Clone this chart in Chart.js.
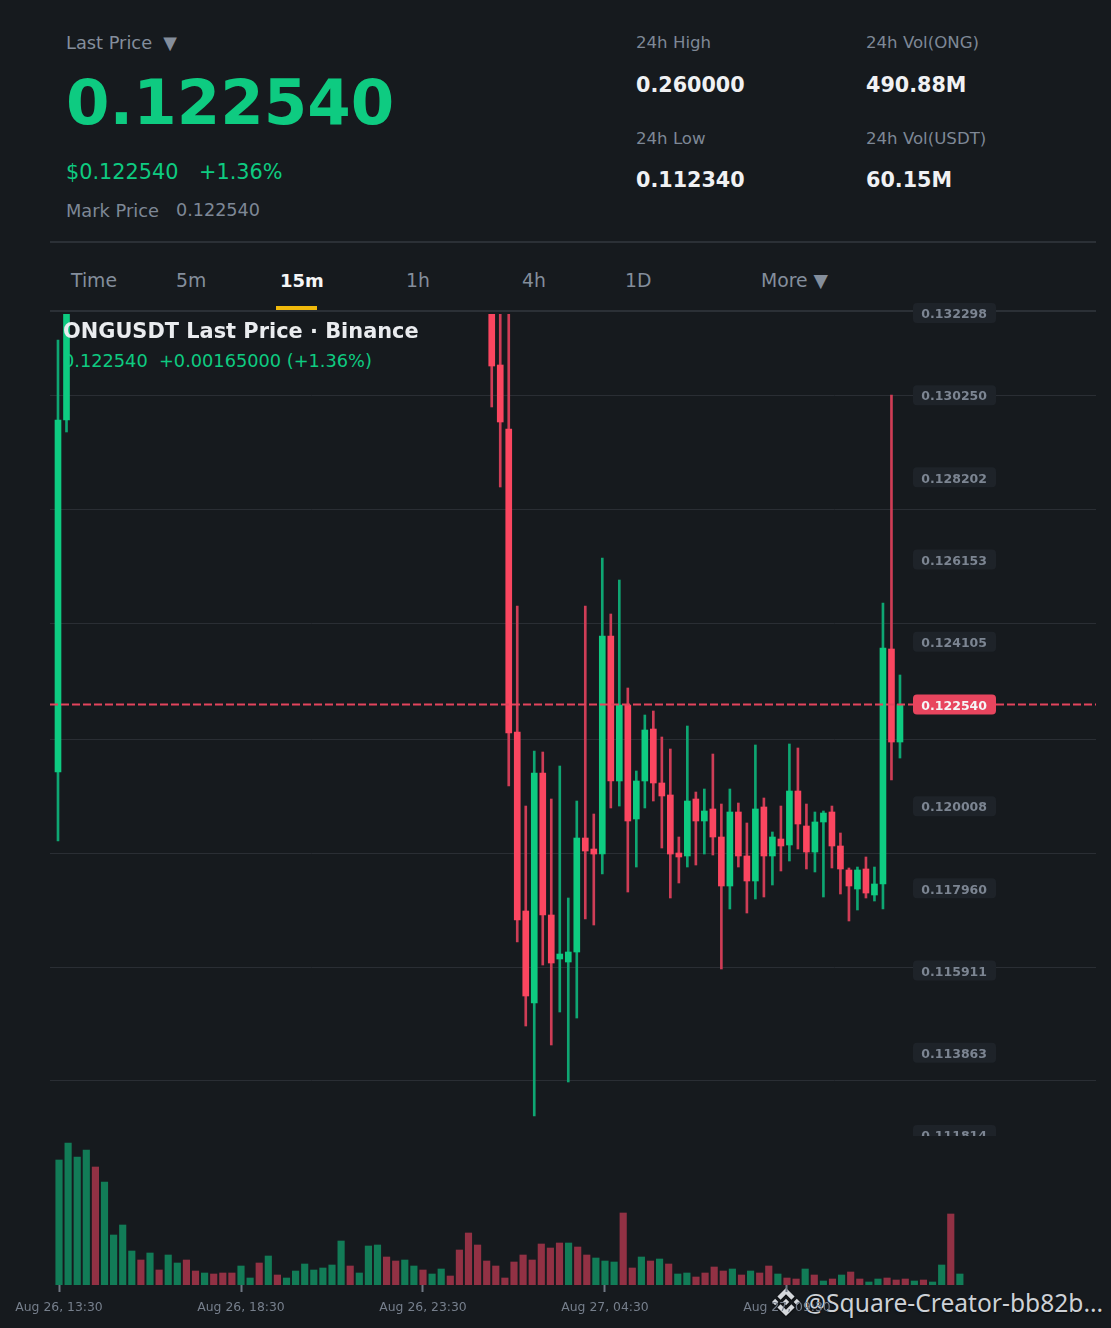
<!DOCTYPE html>
<html>
<head>
<meta charset="utf-8">
<title>ONGUSDT</title>
<script src="https://cdn.jsdelivr.net/npm/chart.js@4/dist/chart.umd.min.js"></script>
<style>
  html, body { margin: 0; padding: 0; background: #161a1e; }
  body { width: 1111px; height: 1328px; position: relative; overflow: hidden; font-family: "DejaVu Sans", sans-serif; color: #848e9c; }
  .t { position: absolute; white-space: pre; line-height: 1; }
  .rule { position: absolute; left: 50px; width: 1046px; height: 2px; background: #2b3036; }
  .lab { font-size: 16.6px; color: #7e8896; }
  .val { font-size: 20.7px; font-weight: bold; color: #f0f1f3; }
  .tab { font-size: 18.8px; top: 272px; color: #848e9c; }
  .up { color: #0ecb81; }
  canvas { position: absolute; left: 0; }
  #priceChart { top: 300px; z-index: 2; }
  #volumeChart { top: 1136px; z-index: 2; }
  #legendTitle { z-index: 3; }
  #mark { z-index: 4; }
</style>
</head>
<body>
<div class="t" style="left:66px;top:34px;font-size:17.8px;">Last Price  ▼</div>
<div class="t up" style="left:66px;top:72px;font-size:62.5px;font-weight:bold;">0.122540</div>
<div class="t up" style="left:66px;top:162px;font-size:20.8px;">$0.122540</div>
<div class="t up" style="left:199px;top:162px;font-size:20.8px;">+1.36%</div>
<div class="t" style="left:66px;top:202px;font-size:17.8px;color:#7e8896;">Mark Price</div>
<div class="t" style="left:176px;top:202px;font-size:17.6px;color:#7e8896;">0.122540</div>

<div class="t lab" style="left:636px;top:35px;">24h High</div>
<div class="t val" style="left:636px;top:75px;">0.260000</div>
<div class="t lab" style="left:636px;top:131px;">24h Low</div>
<div class="t val" style="left:636px;top:170px;">0.112340</div>
<div class="t lab" style="left:866px;top:35px;">24h Vol(ONG)</div>
<div class="t val" style="left:866px;top:75px;">490.88M</div>
<div class="t lab" style="left:866px;top:131px;">24h Vol(USDT)</div>
<div class="t val" style="left:866px;top:170px;">60.15M</div>

<div class="rule" style="top:241px;"></div>
<div class="t tab" style="left:71px;">Time</div>
<div class="t tab" style="left:176px;">5m</div>
<div class="t tab" style="left:280px;font-weight:bold;font-size:18px;color:#f5f6f7;">15m</div>
<div class="t tab" style="left:406px;">1h</div>
<div class="t tab" style="left:522px;">4h</div>
<div class="t tab" style="left:625px;">1D</div>
<div class="t tab" style="left:761px;">More ▼</div>
<div style="position:absolute;left:276px;top:306px;width:41px;height:4px;background:#f0b90b;"></div>
<div class="rule" style="top:310px;"></div>

<div class="t up" style="left:63px;top:353px;font-size:17.75px;">0.122540  +0.00165000 (+1.36%)</div>
<canvas id="priceChart" width="1111" height="836"></canvas>
<canvas id="volumeChart" width="1111" height="192"></canvas>
<div class="t" id="legendTitle" style="left:63px;top:321px;font-size:20.9px;font-weight:bold;color:#eaecef;">ONGUSDT Last Price · Binance</div>

<div id="mark">
  <svg style="position:absolute;left:772px;top:1288px;filter:drop-shadow(0 1px 1px rgba(0,0,0,.6));" width="28" height="28" viewBox="0 0 24 24" fill="#d5d8dc">
    <path d="M16.624 13.9202l2.7175 2.7154-7.353 7.353-7.353-7.352 2.7175-2.7164 4.6355 4.6595 4.6356-4.6595zm4.6366-4.6366L24 12l-2.7154 2.7164L18.5682 12l2.6924-2.7164zm-9.272.001l2.7163 2.6914-2.7164 2.7174v-.001L9.2721 12l2.7164-2.7154zm-9.2722-.001L5.4088 12l-2.6914 2.6924L0 12l2.7164-2.7164zM11.9885.0115l7.353 7.329-2.7174 2.7154-4.6356-4.6356-4.6355 4.6595-2.7174-2.7154 7.353-7.353z"/>
  </svg>
  <div class="t" style="left:804px;top:1291px;font-family:'Noto Sans',sans-serif;font-size:24.6px;color:#cdd1d6;text-shadow:0 1px 2px rgba(0,0,0,.6);">@Square-Creator-bb82b...</div>
</div>

<script>
// candle slots; 2..50 ran above the visible price range
const candleIdx = [0, 1, 51, 52, 53, 54, 55, 56, 57, 58, 59, 60, 61, 62, 63, 64, 65, 66, 67, 68, 69, 70, 71, 72, 73, 74, 75, 76, 77, 78, 79, 80, 81, 82, 83, 84, 85, 86, 87, 88, 89, 90, 91, 92, 93, 94, 95, 96, 97, 98, 99];
const opens = [0.120860, 0.129632, 0.132747, 0.131002, 0.129407, 0.121857, 0.117396, 0.115103, 0.120835, 0.117296, 0.116200, 0.116125, 0.116374, 0.119215, 0.118941, 0.118816, 0.124249, 0.120636, 0.122529, 0.119689, 0.120636, 0.121931, 0.120586, 0.120287, 0.118841, 0.118767, 0.120187, 0.119639, 0.119938, 0.119240, 0.118019, 0.119863, 0.118767, 0.118144, 0.119988, 0.118767, 0.119190, 0.119041, 0.120386, 0.119514, 0.118866, 0.119614, 0.119863, 0.119016, 0.118418, 0.117944, 0.118443, 0.117795, 0.118069, 0.123925, 0.121607];
const closes = [0.129632, 0.132871, 0.130977, 0.129582, 0.121832, 0.117172, 0.115278, 0.120835, 0.117296, 0.116100, 0.116324, 0.116374, 0.119215, 0.118891, 0.118816, 0.124249, 0.120636, 0.122529, 0.119639, 0.120636, 0.121906, 0.120586, 0.120262, 0.118816, 0.118742, 0.120137, 0.119639, 0.119888, 0.119240, 0.118019, 0.119863, 0.118767, 0.118144, 0.119938, 0.118767, 0.119240, 0.119016, 0.120386, 0.119564, 0.118866, 0.119614, 0.119838, 0.119016, 0.118443, 0.118019, 0.118418, 0.117844, 0.118069, 0.123950, 0.121607, 0.122540];
const highs = [0.131625, 0.133370, 0.132871, 0.132622, 0.132497, 0.124996, 0.120012, 0.121383, 0.121358, 0.120187, 0.121009, 0.117720, 0.120137, 0.124996, 0.119813, 0.126193, 0.124797, 0.125644, 0.122953, 0.120885, 0.122280, 0.122380, 0.121732, 0.121433, 0.119240, 0.122006, 0.120361, 0.120436, 0.121308, 0.120062, 0.120436, 0.120087, 0.119589, 0.121533, 0.120212, 0.119365, 0.120012, 0.121558, 0.121458, 0.120062, 0.119863, 0.119888, 0.120012, 0.119340, 0.118468, 0.118492, 0.118742, 0.118492, 0.125071, 0.130255, 0.123277];
const lows = [0.119140, 0.129333, 0.129956, 0.127962, 0.120511, 0.116623, 0.114530, 0.112287, 0.116050, 0.114057, 0.114879, 0.113135, 0.114729, 0.117197, 0.117047, 0.118318, 0.119963, 0.120012, 0.117869, 0.118492, 0.119963, 0.120137, 0.118966, 0.117720, 0.118094, 0.118492, 0.118542, 0.118816, 0.118791, 0.115951, 0.117446, 0.118492, 0.117346, 0.117695, 0.117745, 0.118044, 0.118393, 0.118642, 0.118941, 0.118443, 0.118368, 0.117745, 0.118468, 0.117820, 0.117147, 0.117421, 0.117720, 0.117645, 0.117446, 0.120660, 0.121208];

// volume per bar, and 1 = green / 0 = red
const volumes = [25, 28.4, 25.6, 27, 23.6, 20.6, 10, 12, 6.8, 5, 6.4, 3, 6, 4.4, 5, 2.8, 2.4, 2.2, 2.4, 2.4, 3.8, 1.4, 4.4, 5.8, 2, 1.4, 2.8, 4.2, 3, 3.4, 4, 8.8, 3.8, 2.4, 7.8, 8, 5.6, 4.8, 5, 3.8, 3, 2.2, 3.2, 1.8, 7, 10.4, 8, 4.8, 3.8, 1.4, 4.6, 6, 5, 8.2, 7.4, 8.4, 8.4, 7.6, 6, 5.4, 4.8, 4.6, 14.4, 3.4, 5.6, 4.8, 5.2, 4.2, 2.2, 2.4, 1.6, 2.4, 3.6, 2.8, 3.2, 2, 2.8, 2.4, 3.8, 2.2, 1.4, 1.2, 3.2, 2, 0.8, 1.2, 2, 2.6, 1.2, 0.6, 1.2, 1.4, 1, 1.2, 0.8, 1, 0.6, 4, 14.2, 2.2];
const volumeUp = [1, 1, 1, 1, 0, 1, 1, 1, 1, 0, 1, 0, 1, 1, 0, 0, 1, 0, 0, 0, 1, 1, 0, 1, 0, 1, 1, 1, 1, 1, 1, 1, 0, 1, 1, 1, 0, 0, 1, 1, 0, 1, 1, 0, 0, 0, 0, 0, 0, 0, 0, 0, 0, 0, 0, 0, 1, 0, 0, 1, 1, 1, 0, 0, 1, 0, 1, 0, 1, 1, 0, 0, 0, 0, 1, 0, 1, 0, 0, 1, 0, 0, 1, 0, 1, 0, 1, 0, 0, 1, 1, 0, 0, 0, 1, 0, 1, 1, 0, 1];

const priceTicks = [0.132298, 0.130250, 0.128202, 0.126153, 0.124105, 0.122540, 0.120008, 0.117960, 0.115911, 0.113863, 0.111814];
const gridPrices = [0.130250, 0.127389, 0.124548, 0.121682, 0.118841, 0.116000, 0.113160];
const lastPrice = 0.122540;
const timeTicks = [0, 20, 40, 60, 80];
const timeLabels = ['Aug 26, 13:30', 'Aug 26, 18:30', 'Aug 26, 23:30', 'Aug 27, 04:30', 'Aug 27, 09:30'];

const GREEN = '#0ecb81', RED = '#fb4660';
const WICK_GREEN = '#0ea672', WICK_RED = '#cf3d56';
const fontFamily = '"DejaVu Sans", sans-serif';

const isUp = candleIdx.map((_, i) => closes[i] >= opens[i]);
const flatWidth = scale => { scale.width = 0; scale.paddingTop = 0; scale.paddingBottom = 0; };
const topClip = { left: 0, top: -1, right: 0, bottom: 0 };

// rounded boxes behind the price labels, the labels themselves stay on the axis
const priceBoxes = {
    id: 'priceBoxes',
    afterDatasetsDraw(chart) {
        const { ctx, scales: { y }, chartArea } = chart;
        priceTicks.forEach(v => {
            ctx.fillStyle = v === lastPrice ? '#e8455e' : '#1e2329';
            ctx.beginPath();
            ctx.roundRect(chartArea.right - 183, y.getPixelForValue(v) - 10, 83, 20, 4);
            ctx.fill();
        });
    }
};

new Chart(document.getElementById('priceChart'), {
    type: 'bar',
    data: {
        datasets: [
            {
                // dashed last price line, drawn over the candles
                type: 'line',
                data: [{ x: -0.94, y: lastPrice }, { x: 122.05, y: lastPrice }],
                borderColor: '#e2445d',
                borderWidth: 2,
                borderDash: [8, 3],
                pointRadius: 0,
                order: 0
            },
            {
                data: candleIdx.map((x, i) => ({ x, y: [opens[i], closes[i]] })),
                backgroundColor: isUp.map(u => u ? GREEN : RED),
                barThickness: 6,
                grouped: false,
                clip: topClip,
                order: 1
            },
            {
                data: candleIdx.map((x, i) => ({ x, y: [lows[i], highs[i]] })),
                backgroundColor: isUp.map(u => u ? WICK_GREEN : WICK_RED),
                barThickness: 2,
                grouped: false,
                clip: topClip,
                order: 2
            }
        ]
    },
    plugins: [priceBoxes],
    options: {
        responsive: false,
        animation: false,
        devicePixelRatio: 1,
        layout: { padding: { left: 50, right: 15, top: 13, bottom: 1 } },
        plugins: { legend: { display: false }, tooltip: { enabled: false } },
        scales: {
            x: { type: 'linear', offset: false, grid: { offset: false }, min: -0.94, max: 122.05, display: false },
            y: {
                position: 'right',
                min: 0.111814,
                max: 0.132298,
                afterBuildTicks: s => { s.ticks = priceTicks.map(value => ({ value })); },
                afterFit: flatWidth,
                border: { display: false },
                grid: { display: false },
                ticks: {
                    mirror: true,
                    padding: -109,
                    labelOffset: 2,
                    z: 1,
                    autoSkip: false,
                    callback: v => v.toFixed(6),
                    font: { family: fontFamily, size: 12.5, weight: 'bold' },
                    color: c => c.tick.value === lastPrice ? '#f5f6f7' : '#7c8592'
                }
            },
            yGrid: {
                axis: 'y',
                position: 'right',
                min: 0.111814,
                max: 0.132298,
                afterBuildTicks: s => { s.ticks = gridPrices.map(value => ({ value })); },
                afterFit: flatWidth,
                border: { display: false },
                grid: { color: '#2a2e34', drawTicks: false, lineWidth: 1 },
                ticks: { display: false, autoSkip: false }
            }
        }
    }
});

new Chart(document.getElementById('volumeChart'), {
    type: 'bar',
    data: {
        datasets: [{
            data: volumes.map((y, x) => ({ x, y })),
            backgroundColor: volumeUp.map(u => u ? '#127c57' : '#923144'),
            barThickness: 6.5
        }]
    },
    options: {
        responsive: false,
        animation: false,
        devicePixelRatio: 1,
        layout: { padding: { left: 50, right: 15 } },
        plugins: { legend: { display: false }, tooltip: { enabled: false } },
        scales: {
            x: {
                type: 'linear',
                offset: false,
                min: -0.99,
                max: 113.96,
                afterBuildTicks: s => { s.ticks = timeTicks.map(value => ({ value })); },
                afterFit: s => { s.height = 43; },
                border: { display: false },
                grid: { offset: false, drawOnChartArea: false, tickColor: '#6f7783', tickLength: 7, tickWidth: 2 },
                ticks: {
                    autoSkip: false,
                    maxRotation: 0,
                    padding: 8,
                    color: '#767f8c',
                    font: { family: fontFamily, size: 12.4 },
                    callback: v => timeLabels[timeTicks.indexOf(v)]
                }
            },
            y: { display: false, min: 0, max: 29.8 }
        }
    }
});
</script>
</body>
</html>
